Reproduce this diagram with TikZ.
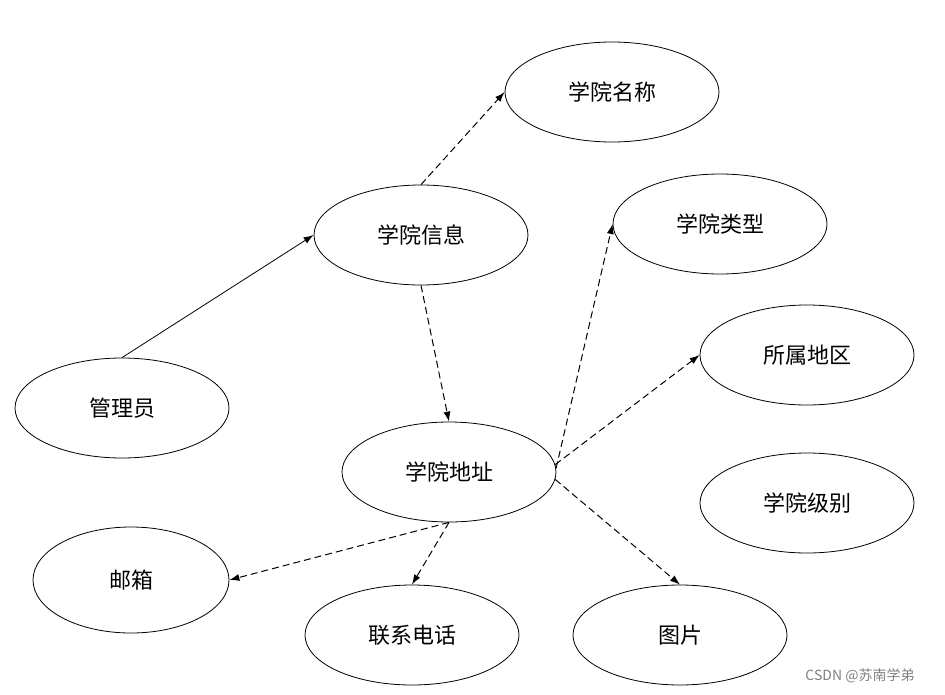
\documentclass[tikz,border=0pt]{standalone}
\usepackage{fontspec}
\setmainfont{Noto Sans CJK SC}
\usetikzlibrary{shapes.geometric,arrows.meta}
\begin{document}
\begin{tikzpicture}[x=1pt,y=-1pt,line width=0.8pt,
  ent/.style={draw,ellipse,minimum width=214pt,minimum height=100pt,font=\fontsize{22}{25}\selectfont},
  arr/.style={-{Latex[length=10pt,width=7pt]}},
  dsh/.style={arr,line width=1pt,dash pattern=on 7pt off 4pt}]
\useasboundingbox (0,0) rectangle (945,694);
\node[ent] (mc) at (612,92) {学院名称};
\node[ent] (xx) at (421,235) {学院信息};
\node[ent] (lx) at (720,224) {学院类型};
\node[ent] (dq) at (807,355) {所属地区};
\node[ent] (gl) at (122,408) {管理员};
\node[ent] (dz) at (449,472) {学院地址};
\node[ent] (jb) at (807,503) {学院级别};
\node[ent,minimum width=196pt,minimum height=106pt] (yx) at (131,580) {邮箱};
\node[ent] (dh) at (412,635) {联系电话};
\node[ent] (tp) at (680,635) {图片};
\node[text=gray,font=\fontsize{14}{16}\selectfont] (wm) at (860,676) {CSDN @苏南学弟};
\draw[arr] (gl.90) -- (xx.180);
\draw[dsh] (xx.90) -- (mc.180);
\draw[dsh] (xx.-90) -- (dz.90);
\draw[dsh] (dz.2) -- (lx.180);
\draw[dsh] (dz.4) -- (dq.180);
\draw[dsh] (dz.-4) -- (tp.90);
\draw[dsh] (dz.-90) -- (yx.0);
\draw[dsh] (dz.-90) -- (dh.90);
\end{tikzpicture}
\end{document}
